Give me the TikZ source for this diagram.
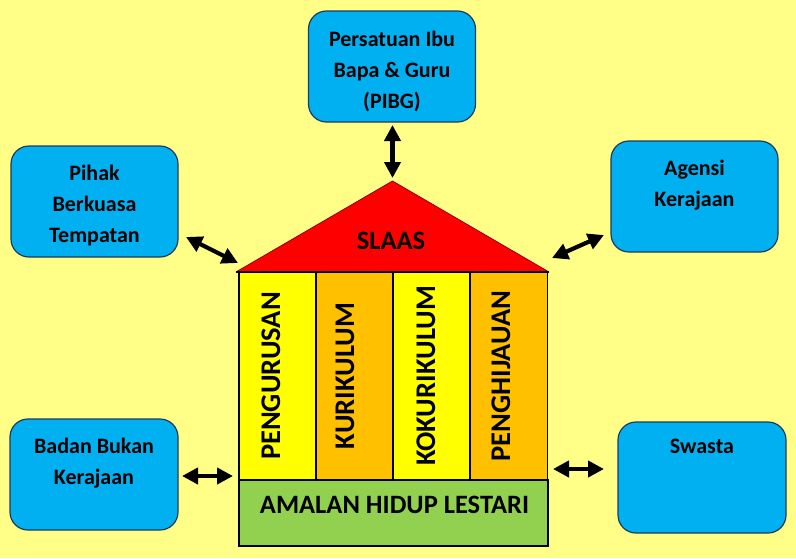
\documentclass[tikz,border=0pt]{standalone}
\usepackage{fontspec}
\setmainfont{Carlito}
\usetikzlibrary{arrows.meta}
\definecolor{bgyellow}{HTML}{FFFF88}
\definecolor{boxblue}{HTML}{00B0F0}
\definecolor{boxline}{HTML}{1F3A5A}
\definecolor{colyellow}{HTML}{FFFF00}
\definecolor{colorange}{HTML}{FFC000}
\definecolor{basegreen}{HTML}{92D050}
\definecolor{roofred}{HTML}{FF0000}
\definecolor{roofline}{HTML}{8B0000}
\tikzset{
  x=1pt, y=1pt,
  extbox/.style={draw=boxline, line width=1.2pt, fill=boxblue, rounded corners=18pt, inner sep=0pt},
  boxtext/.style={anchor=north, align=center, inner sep=0pt, font=\fontsize{22}{31}\selectfont\bfseries},
  column/.style={draw=black, line width=1.3pt, minimum width=77pt, minimum height=208pt, inner sep=0pt},
  coltext/.style={rotate=90, inner sep=0pt, font=\fontsize{28.5}{30}\selectfont\bfseries},
  link/.style={line width=4.2pt, {Triangle[length=16pt,width=16pt]}-{Triangle[length=16pt,width=16pt]}},
}
\begin{document}
\begin{tikzpicture}
\useasboundingbox (0,0) rectangle (796,-558);
\fill[bgyellow] (0,0) rectangle (796,-558);

% external boxes
\node[extbox, minimum width=167pt, minimum height=111pt] (pibg) at (392,-66.5) {};
\node[boxtext] (pibgt) at (392,-30.5) {Persatuan Ibu\\Bapa \& Guru\\(PIBG)};

\node[extbox, minimum width=167pt, minimum height=111pt] (pbt) at (94.5,-201.5) {};
\node[boxtext] (pbtt) at (94.5,-164.5) {Pihak\\Berkuasa\\Tempatan};

\node[extbox, minimum width=167pt, minimum height=111pt] (agensi) at (694.5,-196.5) {};
\node[boxtext] (agensit) at (694.5,-159.5) {Agensi\\Kerajaan};

\node[extbox, minimum width=168pt, minimum height=111pt] (bbk) at (94,-474.5) {};
\node[boxtext] (bbkt) at (94,-437.5) {Badan Bukan\\Kerajaan};

\node[extbox, minimum width=168pt, minimum height=111pt] (swasta) at (702,-477.5) {};
\node[boxtext] (swastat) at (702,-438.5) {Swasta};

% roof
\coordinate (roofL) at (236,-272);
\coordinate (roofT) at (392.5,-181);
\coordinate (roofR) at (549,-272);
\fill[roofred] (roofL) -- (roofT) -- (roofR) -- cycle;
\draw[roofline, line width=0.8pt, line join=miter] (roofL) -- (roofT) -- (roofR);
\node[inner sep=0pt, font=\fontsize{26.5}{28}\selectfont\bfseries] (slaas) at (391,-241) {SLAAS};

% columns
\node[column, fill=colyellow] (c1) at (277.5,-376) {};
\node[column, fill=colorange] (c2) at (354.5,-376) {};
\node[column, fill=colyellow] (c3) at (431.5,-376) {};
\node[column, fill=colorange] (c4) at (509,-376) {};
\node[coltext] (t1) at (271,-376) {PENGURUSAN};
\node[coltext] (t2) at (345,-376) {KURIKULUM};
\node[coltext] (t3) at (426,-376) {KOKURIKULUM};
\node[coltext] (t4) at (501,-376) {PENGHIJAUAN};
\draw[black, line width=1.6pt] (roofL) -- (roofR);

% base
\node[draw=black, line width=1.3pt, fill=basegreen, minimum width=309pt, minimum height=66pt, inner sep=0pt] (base) at (393.5,-513) {};
\node[inner sep=0pt, font=\fontsize{26.5}{28}\selectfont\bfseries] (baset) at (394.5,-504.5) {AMALAN HIDUP LESTARI};

% connectors
\coordinate (a1s) at (392.5,-125);
\coordinate (a1e) at (392.5,-178);
\coordinate (a2s) at (186,-237);
\coordinate (a2e) at (238,-263);
\coordinate (a3s) at (552,-258);
\coordinate (a3e) at (604,-235);
\coordinate (a4s) at (182,-476);
\coordinate (a4e) at (233,-476);
\coordinate (a5s) at (553,-469);
\coordinate (a5e) at (604,-469);
\draw[link] (a1s) -- (a1e);
\draw[link] (a2s) -- (a2e);
\draw[link] (a3s) -- (a3e);
\draw[link] (a4s) -- (a4e);
\draw[link] (a5s) -- (a5e);
\end{tikzpicture}
\end{document}
